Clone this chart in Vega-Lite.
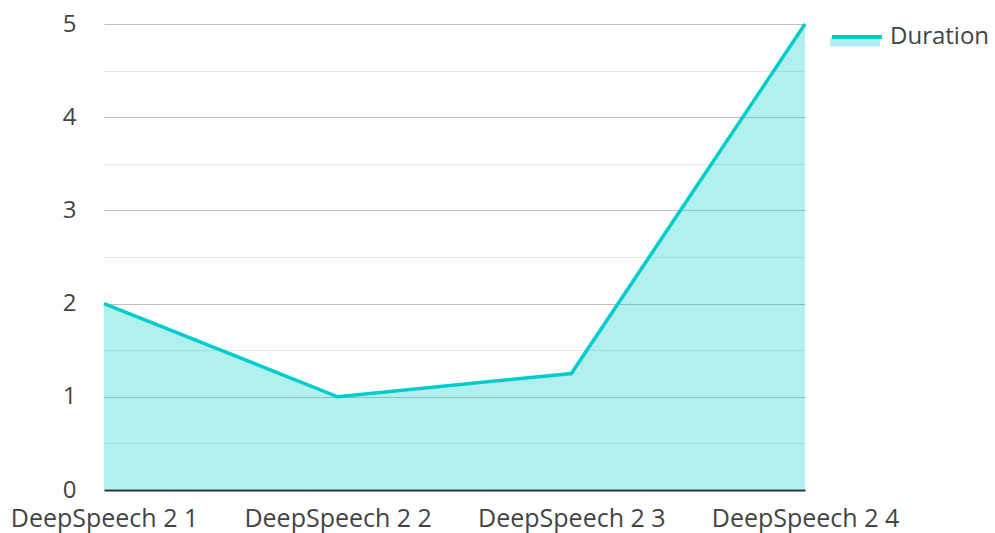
{
  "$schema": "https://vega.github.io/schema/vega-lite/v6.json",
  "width": 701,
  "height": 466,
  "autosize": {"type": "none"},
  "padding": {"left": 104, "top": 24, "right": 190, "bottom": 43},
  "config": {
    "view": {"stroke": null},
    "font": "Open Sans",
    "axis": {"labelFont": "Open Sans", "labelColor": "#444444", "labelFontSize": 24, "titleFont": "Open Sans"},
    "legend": {"labelFont": "Open Sans", "labelColor": "#444444", "labelFontSize": 24}
  },
  "data": {
    "values": [
      {"name": "DeepSpeech 2 1", "value": 2, "s1": "Duration", "s2": "Duration"},
      {"name": "DeepSpeech 2 2", "value": 1, "s1": "Duration", "s2": "Duration"},
      {"name": "DeepSpeech 2 3", "value": 1.25, "s1": "Duration", "s2": "Duration"},
      {"name": "DeepSpeech 2 4", "value": 5, "s1": "Duration", "s2": "Duration"}
    ]
  },
  "encoding": {
    "x": {
      "field": "name", "type": "nominal", "sort": null,
      "scale": {"type": "point", "padding": 0},
      "axis": {"title": null, "labelAngle": 0, "ticks": false, "grid": false, "domainColor": "#333333", "domainWidth": 2, "labelPadding": 16, "labelFontSize": 25, "labelLimit": 400}
    },
    "y": {
      "field": "value", "type": "quantitative",
      "scale": {"domain": [0, 5], "nice": false},
      "axis": {
        "title": null, "domain": false, "ticks": false, "labelPadding": 28,
        "values": [0, 0.5, 1, 1.5, 2, 2.5, 3, 3.5, 4, 4.5, 5],
        "labelExpr": "datum.value % 1 === 0 ? format(datum.value, 'd') : ''",
        "gridColor": {"condition": {"test": "datum.value % 1 === 0", "value": "#bdbdbd"}, "value": "#e6e6e6"},
        "gridWidth": 1.2
      }
    }
  },
  "layer": [
    {
      "mark": {"type": "area", "fillOpacity": 0.3},
      "encoding": {
        "fill": {
          "field": "s1", "type": "nominal",
          "scale": {"range": ["#00cccc"]},
          "legend": {
            "title": null, "orient": "none", "legendX": 726, "legendY": -14,
            "symbolType": "M-1,0.1H1V0.46H-1Z", "symbolSize": 2500, "symbolOpacity": 0.3,
            "symbolStrokeWidth": 0, "labelExpr": "''", "labelOffset": 6
          }
        }
      }
    },
    {
      "mark": {"type": "line", "strokeWidth": 3.5},
      "encoding": {
        "stroke": {
          "field": "s2", "type": "nominal",
          "scale": {"range": ["#00cccc"]},
          "legend": {
            "title": null, "orient": "none", "legendX": 726, "legendY": -14,
            "symbolType": "stroke", "symbolSize": 2500, "symbolStrokeWidth": 4, "labelOffset": 6
          }
        }
      }
    }
  ]
}
